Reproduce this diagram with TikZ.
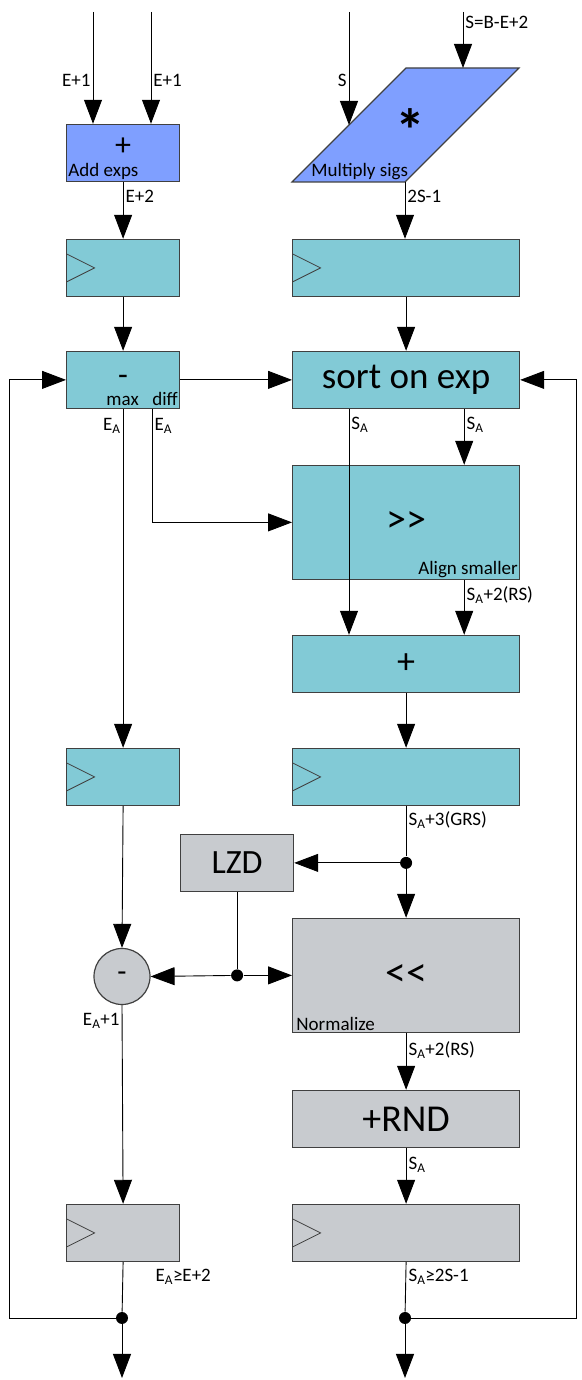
\documentclass[tikz,border=0pt]{standalone}
\usepackage{fontspec}
\setmainfont{Carlito}
\usetikzlibrary{shapes, arrows.meta, positioning, calc}

\definecolor{expblue}{RGB}{127,159,255}
\definecolor{stageteal}{RGB}{130,202,214}
\definecolor{normgray}{RGB}{200,203,207}
\definecolor{edgegray}{RGB}{64,64,64}

\newcommand{\lblsize}{\fontsize{19}{21}\selectfont}
\newcommand{\opsize}[1]{\fontsize{#1}{#1}\selectfont}

\tikzstyle{block} = [draw=edgegray, line width=1.2pt, anchor=south west, inner sep=0pt]
\tikzstyle{narrow} = [block, minimum width=113, minimum height=57]
\tikzstyle{wide} = [block, minimum width=227, minimum height=57]
\tikzstyle{reg} = [path picture={\draw[line width=0.8pt, edgegray] ([yshift=14pt]path picture bounding box.west) -- ([xshift=28pt]path picture bounding box.west) -- ([yshift=-14pt]path picture bounding box.west);}]
\tikzstyle{lbl} = [font=\lblsize, inner sep=2pt]
\tikzstyle{dot} = [circle, fill, inner sep=0pt, minimum size=12pt]

\begin{document}
\begin{tikzpicture}[x=1pt, y=1pt, line width=0.9pt, >={Triangle[length=24pt,width=18pt]}]
		\useasboundingbox (0,0) rectangle (581,1380);
		\coordinate (add)   at (66,  1198);
		\coordinate (regEa) at (66,  1083);
		\coordinate (regSa) at (292, 1083);
		\coordinate (max)   at (66,  971);
		\coordinate (sort)  at (292, 971);
		\coordinate (align) at (292, 800);
		\coordinate (sum)   at (292, 687);
		\coordinate (regEb) at (66,  574);
		\coordinate (regSb) at (292, 574);
		\coordinate (lzd)   at (180, 488);
		\coordinate (norm)  at (292, 347);
		\coordinate (round) at (292, 232);
		\coordinate (regEc) at (66,  118);
		\coordinate (regSc) at (292, 118);
		% multiplier corners
		\coordinate (mulA) at (292, 1198);
		\coordinate (mulB) at (405, 1198);
		\coordinate (mulC) at (519, 1312);
		\coordinate (mulD) at (406, 1312);
		% free inputs and outputs
		\coordinate (inE1) at (93,  1368);
		\coordinate (inE2) at (151, 1368);
		\coordinate (inS)  at (349, 1368);
		\coordinate (inB)  at (463, 1368);
		\coordinate (endE) at (122, 2);
		\coordinate (endS) at (405, 2);

		\node[narrow, fill=expblue] (ADD) at (add) {};
		\node at ($(ADD.center)+(0,6)$) {\opsize{32}+};
		\node[lbl, anchor=south west] at (ADD.south west) {Add exps};
		\draw[draw=edgegray, line width=1.2pt, fill=expblue] (mulA) -- (mulB) -- (mulC) -- (mulD) -- cycle;
		\node (MUL) at (410, 1250) {\opsize{60}\bfseries *};
		\node[lbl, anchor=south west] at ($(mulA)+(17,0)$) {Multiply sigs};

		\node[narrow, reg, fill=stageteal] (REGEa) at (regEa) {};
		\node[wide, reg, fill=stageteal] (REGSa) at (regSa) {};
		\node[narrow, fill=stageteal] (MAX) at (max) {};
		\node at ($(MAX.center)+(0,-1)$) {\opsize{32}-};
		\node[lbl, anchor=south west] at ($(MAX.south west)+(38,1)$) {max};
		\node[lbl, anchor=south east] at ($(MAX.south east)+(0,1)$) {diff};
		\node[wide, fill=stageteal] (SORT) at (sort) {\opsize{37}sort on exp};
		\node[block, fill=stageteal, minimum width=227, minimum height=114] (ALIGN) at (align) {\opsize{40}{>}{>}};
		\node[lbl, anchor=south east] at (ALIGN.south east) {Align smaller};
		\node[wide, fill=stageteal] (SUM) at (sum) {\opsize{36}+};
		\node[narrow, reg, fill=stageteal] (REGEb) at (regEb) {};
		\node[wide, reg, fill=stageteal] (REGSb) at (regSb) {};
		\node[narrow, fill=normgray] (LZD) at (lzd) {\opsize{34}LZD};
		\node[block, fill=normgray, minimum width=227, minimum height=114] (NORM) at (norm) {\opsize{42}{<}{<}};
		\node[lbl, anchor=south west] at ($(NORM.south west)+(2,0)$) {Normalize};
		\node[circle, draw=edgegray, line width=1.2pt, fill=normgray, minimum size=56, inner sep=0pt] (SUB) at (122, 403.5) {\opsize{30}-};
		\node[wide, fill=normgray] (RND) at (round) {\opsize{38}+RND};
		\node[narrow, reg, fill=normgray] (REGEc) at (regEc) {};
		\node[wide, reg, fill=normgray] (REGSc) at (regSc) {};

		\node[dot] (tapS) at (REGSb.south |- LZD.east) {};
		\node[dot] (tapZ) at (LZD.south |- NORM.west) {};
		\node[dot] (outE) at (122, 62) {};
		\node[dot] (outS) at (405, 62) {};

		% inputs
		\draw[->] (inE1) node[lbl, anchor=east, yshift=-68]{E+1} -- (inE1 |- ADD.north);
		\draw[->] (inE2) node[lbl, anchor=west, yshift=-68]{E+1} -- (inE2 |- ADD.north);
		\draw[->] (inS) node[lbl, anchor=east, yshift=-68]{S} -- ($(mulA)!0.5!(mulD)$);
		\draw[->] (inB) node[lbl, anchor=west, yshift=-10]{S=B-E+2} -- (inB |- mulC);

		% exponent path
		\draw[->] (ADD.south) node[lbl, anchor=west, yshift=-14]{E+2} -- (REGEa.north);
		\draw[->] (REGEa.south) -- (MAX.north);
		\draw[->] (MAX.east) -- (SORT.west);
		\draw[->] (MAX.south) node[lbl, anchor=east, yshift=-17]{E\textsubscript{A}} -- (REGEb.north);
		\draw[->] ($(MAX.south east)+(-28,0)$) node[lbl, anchor=west, yshift=-17]{E\textsubscript{A}} |- (ALIGN.west);
		\draw[->] (REGEb.south) -- (SUB.north);
		\draw[->] (SUB.south) node[lbl, anchor=east, yshift=-16]{E\textsubscript{A}+1} -- (REGEc.north);
		\draw (REGEc.south) node[lbl, anchor=west, xshift=30, yshift=-15]{E\textsubscript{A}≥E+2} -- (outE);
		\draw[->] (outE) -- (endE);
		\draw[->] (outE) -- ++(-113,0) |- (MAX.west);

		% significand path
		\draw[->] (mulB) node[lbl, anchor=west, yshift=-14]{2S-1} -- (mulB |- REGSa.north);
		\draw[->] (REGSa.south) -- (SORT.north);
		\draw[->] ($(SORT.south west)+(57,0)$) node[lbl, anchor=west, yshift=-16]{S\textsubscript{A}} -- ($(SUM.north west)+(57,0)$);
		\draw[->] ($(SORT.south east)+(-56,0)$) node[lbl, anchor=west, yshift=-16]{S\textsubscript{A}} -- ($(ALIGN.north east)+(-56,0)$);
		\draw[->] ($(ALIGN.south east)+(-56,0)$) node[lbl, anchor=west, yshift=-15]{S\textsubscript{A}+2(RS)} -- ($(SUM.north east)+(-56,0)$);
		\draw[->] (SUM.south) -- (REGSb.north);
		\draw (REGSb.south) node[lbl, anchor=west, yshift=-14]{S\textsubscript{A}+3(GRS)} -- (tapS);
		\draw[->] (tapS) -- (LZD.east);
		\draw[->] (tapS) -- (NORM.north);
		\draw (LZD.south) -- (tapZ);
		\draw[->] (tapZ) -- (NORM.west);
		\draw[->] (tapZ) -- (SUB.east);
		\draw[->] (NORM.south) node[lbl, anchor=west, yshift=-17]{S\textsubscript{A}+2(RS)} -- (RND.north);
		\draw[->] (RND.south) node[lbl, anchor=west, yshift=-17]{S\textsubscript{A}} -- (REGSc.north);
		\draw (REGSc.south) node[lbl, anchor=west, yshift=-15]{S\textsubscript{A}≥2S-1} -- (outS);
		\draw[->] (outS) -- (endS);
		\draw[->] (outS) -- ++(171,0) |- (SORT.east);
	\end{tikzpicture}
\end{document}
